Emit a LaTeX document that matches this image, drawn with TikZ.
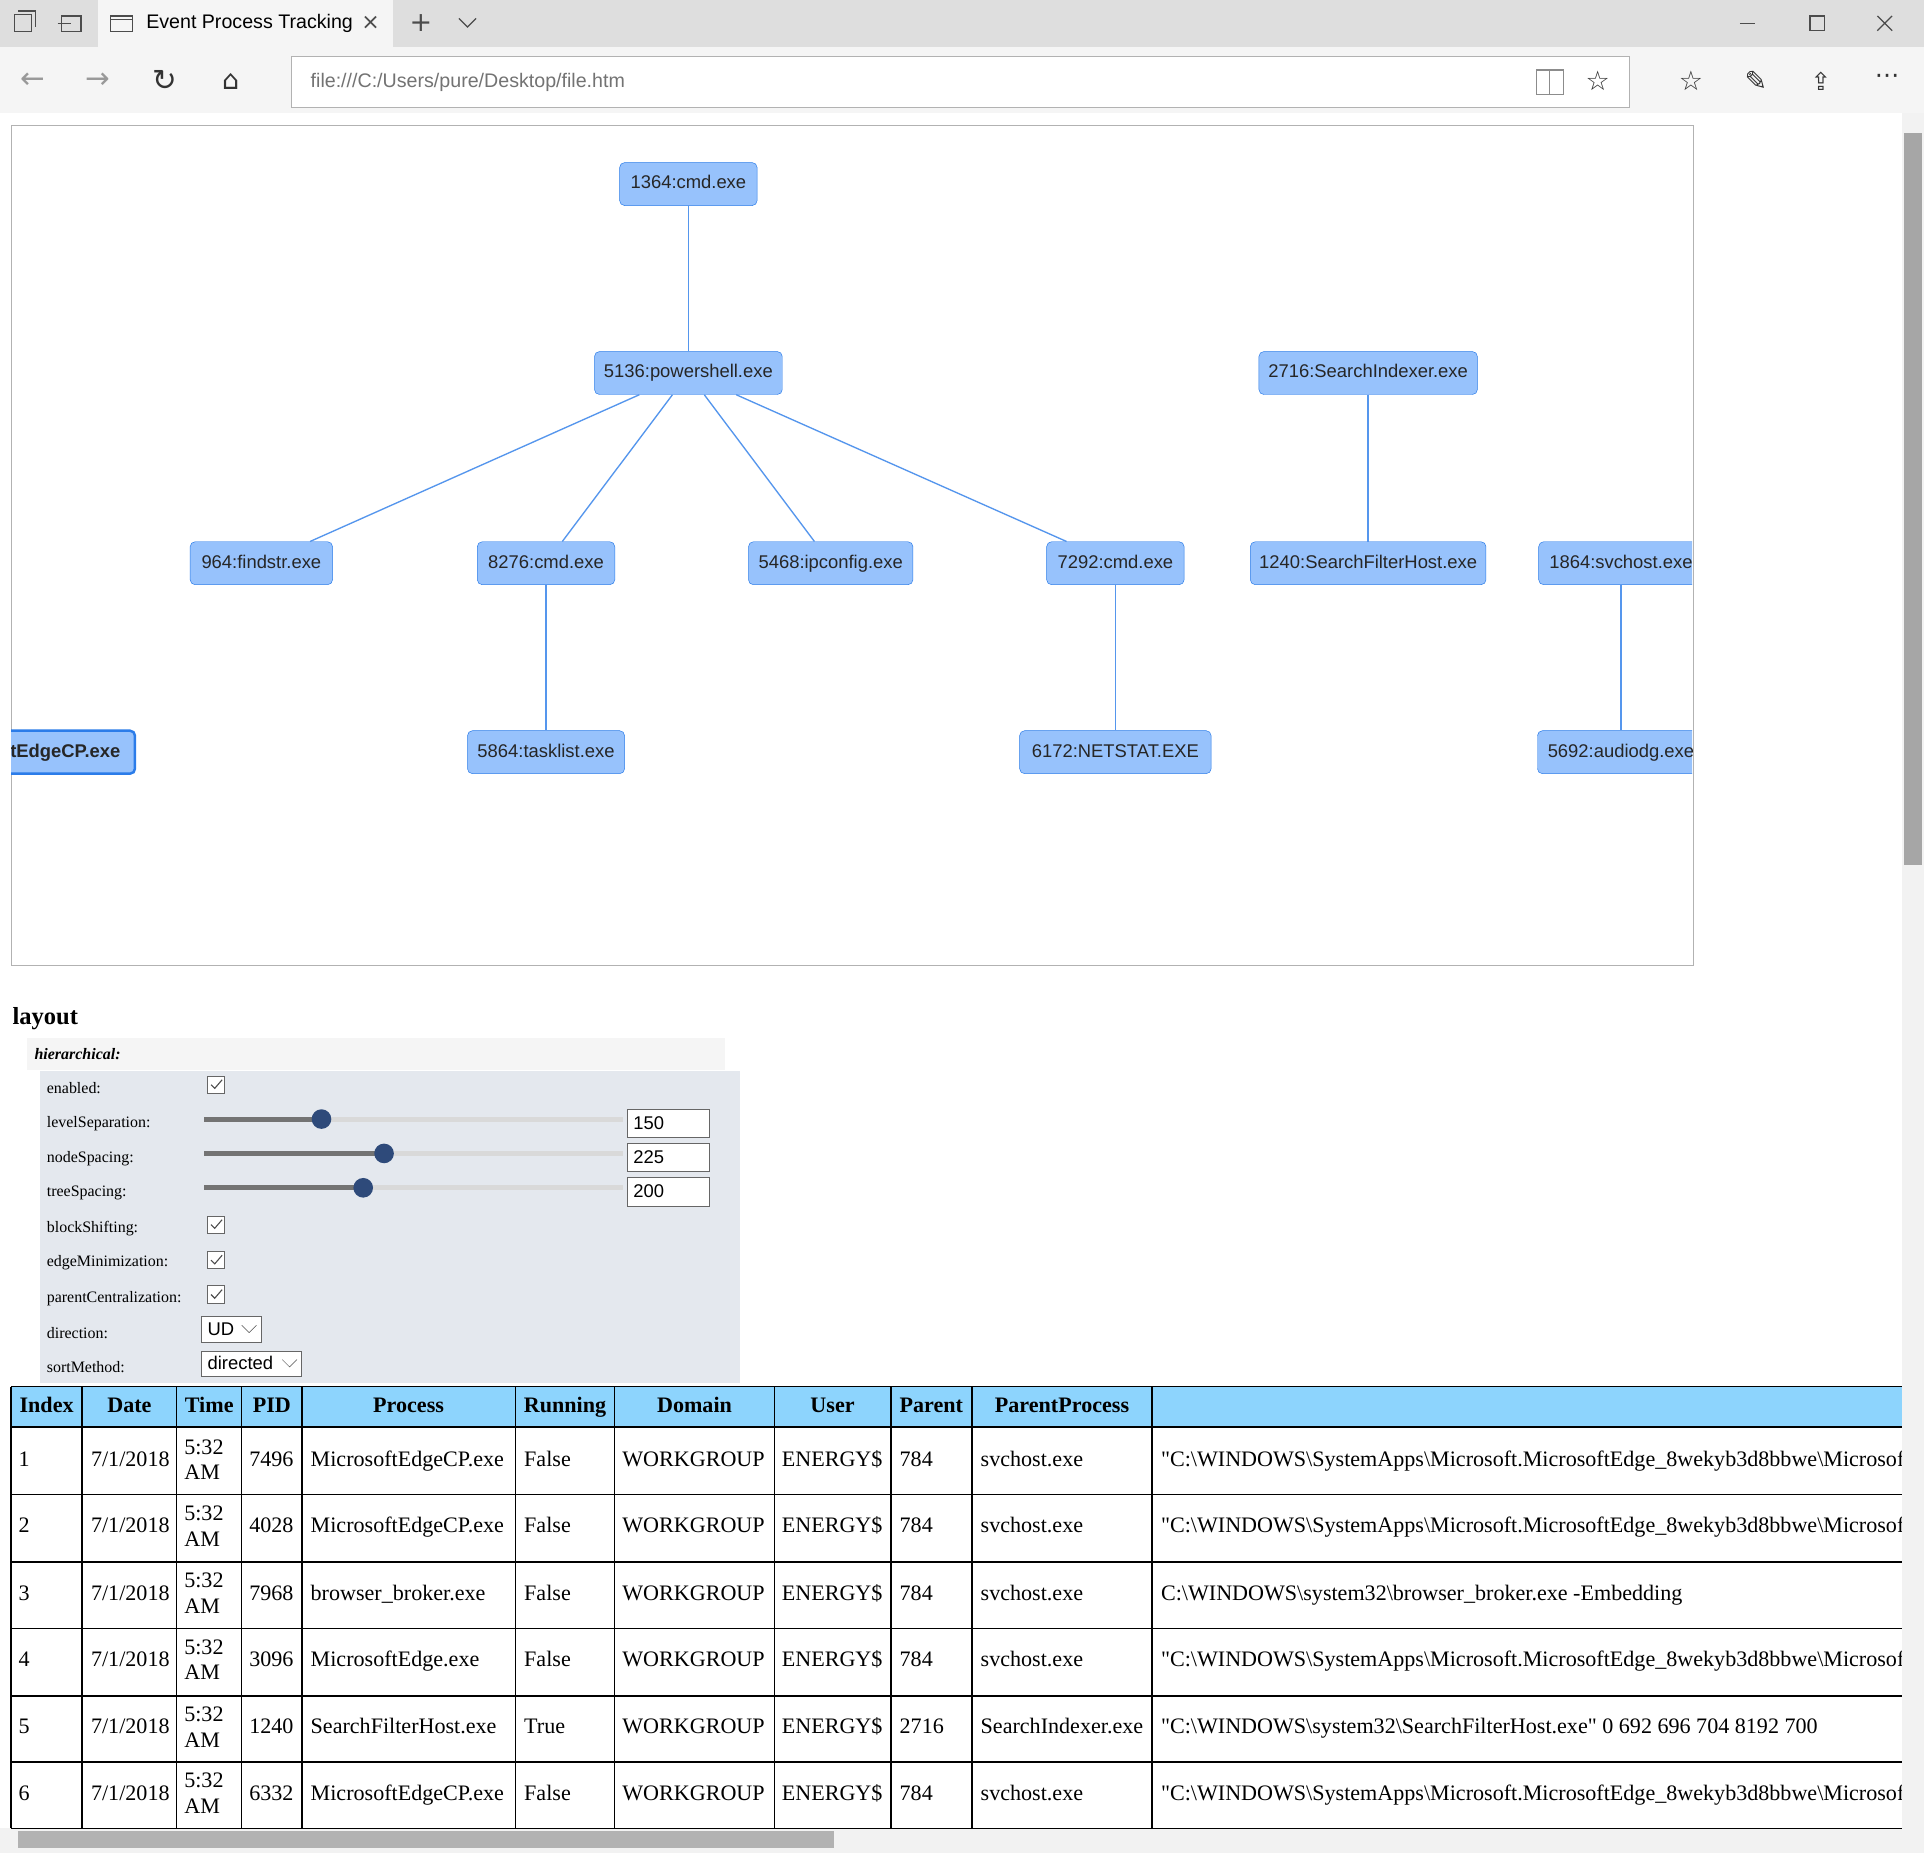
\documentclass[tikz,border=0pt]{standalone}
\usepackage{fontspec}
\setmainfont{Liberation Serif}[Ligatures=TeXOff]
\setsansfont{Liberation Sans}
\newfontfamily\symf{DejaVu Sans}
\begin{document}
\begin{tikzpicture}[x=1pt,y=-1pt,
  gnode/.style={draw=nodeb,fill=nodef,rounded corners=4,minimum height=35,inner sep=0,text height=11,text depth=3,font=\sffamily\fontsize{15}{15}\selectfont,text=black!85},
  edge/.style={draw=nodeb!80,line width=1.1},
  lbl/.style={anchor=west,font=\fontsize{13}{13}\selectfont,inner sep=0},
  cell/.style={anchor=west,font=\fontsize{18}{20}\selectfont,inner sep=0,text height=12,text depth=4},
  hcell/.style={anchor=center,font=\bfseries\fontsize{18}{20}\selectfont,inner sep=0,text height=12,text depth=4},
  chk/.style={draw=black!60,line width=0.8},
  tbox/.style={draw=black!60,fill=white,line width=0.8}]
\definecolor{nodeb}{HTML}{2B7CE9}
\definecolor{nodef}{HTML}{97C2FC}
\definecolor{panel}{HTML}{E4E8EE}
\definecolor{hdr}{HTML}{8DD4FD}
\definecolor{knob}{HTML}{2E4A7A}
\useasboundingbox (0,0) rectangle (1568,1510);
\fill[white] (0,0) rectangle (1568,1510);
% ---- browser chrome
\fill[black!13] (0,0) rectangle (1568,38);
\fill[black!4] (80,0) rectangle (320,38);
\fill[black!4] (0,38) rectangle (1568,92);
\node[anchor=west,font=\sffamily\fontsize{16}{16}\selectfont,inner sep=0] (title) at (119,19) {Event Process Tracking};
\node[font=\symf\fontsize{18}{18}\selectfont,text=black!70] (tx) at (302,19) {×};
\node[font=\symf\fontsize{22}{22}\selectfont,text=black!70] (tplus) at (343,19) {+};
\draw[black!70,line width=1] (374,15)--(381,22)--(388,15);
\draw[black!70,line width=0.9] (90,13) rectangle (108,26) (90,16)--(108,16);
\draw[black!70,line width=0.9] (12,12) rectangle (26,26) (15,9)--(29,9)--(29,22);
\draw[black!70,line width=0.9] (50,13) rectangle (66,26) (47,19)--(58,19);
\draw[black!70,line width=1] (1418,19)--(1430,19);
\draw[black!70,line width=1] (1475,13) rectangle (1487,25);
\draw[black!70,line width=1] (1530,13)--(1542,25) (1542,13)--(1530,25);
\node[font=\symf\fontsize{24}{24}\selectfont,text=black!40] (back) at (27,66) {←};
\node[font=\symf\fontsize{24}{24}\selectfont,text=black!40] (fwd) at (80,66) {→};
\node[font=\symf\fontsize{24}{24}\selectfont,text=black!80] (rel) at (134,66) {↻};
\node[font=\symf\fontsize{22}{22}\selectfont,text=black!80] (home) at (188,66) {⌂};
\draw[black!30,fill=white] (237,46) rectangle (1328,87);
\node[anchor=west,font=\sffamily\fontsize{16}{16}\selectfont,text=black!55,inner sep=0] (url) at (253,67) {file:///C:/Users/pure/Desktop/file.htm};
\draw[black!45,line width=1] (1252,57) rectangle (1274,77) (1263,57)--(1263,77);
\node[font=\symf\fontsize{22}{22}\selectfont,text=black!80] (star) at (1302,66) {☆};
\node[font=\symf\fontsize{22}{22}\selectfont,text=black!80] (fav) at (1378,66) {☆};
\node[font=\symf\fontsize{22}{22}\selectfont,text=black!80] (pen) at (1431,66) {✎};
\node[font=\symf\fontsize{20}{20}\selectfont,text=black!80] (share) at (1484,66) {⇪};
\node[font=\symf\fontsize{20}{20}\selectfont,text=black!80] (more) at (1538,64) {⋯};
% scrollbars
\fill[black!5] (1550,92) rectangle (1568,1510);
\fill[black!35] (1552,108) rectangle (1566,705);
\fill[black!5] (0,1490) rectangle (1550,1510);
\fill[black!30] (15,1492) rectangle (680,1506);
% ---- graph canvas
\draw[black!30] (9,102) rectangle (1380,787);
\begin{scope}
\clip (9,102) rectangle (1379,787);
\node[gnode,minimum width=112] (n1364) at (561,150) {1364:cmd.exe};
\node[gnode,minimum width=153] (n5136) at (561,304) {5136:powershell.exe};
\node[gnode,minimum width=178] (n2716) at (1115,304) {2716:SearchIndexer.exe};
\node[gnode,minimum width=116] (n964) at (213,459) {964:findstr.exe};
\node[gnode,minimum width=112] (n8276) at (445,459) {8276:cmd.exe};
\node[gnode,minimum width=134] (n5468) at (677,459) {5468:ipconfig.exe};
\node[gnode,minimum width=112] (n7292) at (909,459) {7292:cmd.exe};
\node[gnode,minimum width=192] (n1240) at (1115,459) {1240:SearchFilterHost.exe};
\node[gnode,minimum width=134] (n1864) at (1321,459) {1864:svchost.exe};
\node[gnode,minimum width=128] (n5864) at (445,613) {5864:tasklist.exe};
\node[gnode,minimum width=156] (n6172) at (909,613) {6172:NETSTAT.EXE};
\node[gnode,minimum width=136] (n5692) at (1321,613) {5692:audiodg.exe};
\node[gnode,line width=2,minimum width=176,font=\sffamily\bfseries\fontsize{15}{15}\selectfont] (nedge) at (22,613) {MicrosoftEdgeCP.exe};
\draw[edge] (n1364) -- (n5136);
\draw[edge] (n5136.south -| 521,0) -- (n964);
\draw[edge] (n5136.south -| 548,0) -- (n8276);
\draw[edge] (n5136.south -| 574,0) -- (n5468);
\draw[edge] (n5136.south -| 600,0) -- (n7292);
\draw[edge] (n2716) -- (n1240);
\draw[edge] (n8276) -- (n5864);
\draw[edge] (n7292) -- (n6172);
\draw[edge] (n1864) -- (n5692);
\end{scope}
% ---- layout panel
\node[anchor=west,font=\bfseries\fontsize{20}{20}\selectfont,inner sep=0] (layout) at (10,830) {layout};
\fill[black!4] (22,846) rectangle (591,872);
\node[lbl,font=\bfseries\itshape\fontsize{13}{13}\selectfont] (hier) at (28,859) {hierarchical:};
\fill[panel] (33,873) rectangle (603,1127);
\foreach \y/\t in {887/enabled:,916/levelSeparation:,944/nodeSpacing:,972/treeSpacing:,1001/blockShifting:,1029/edgeMinimization:,1058/parentCentralization:,1086/direction:,1114/sortMethod:}
  \node[lbl] at (38,\y) {\t};
\foreach \y in {884,998,1027,1055}{
  \draw[chk,fill=white] (169,\y-7) rectangle (183,\y+7);
  \draw[black!70,line width=0.9] (172,\y) -- (175,\y+3) -- (181,\y-4);}
\foreach \y/\k/\v in {912/262/150,940/313/225,968/296/200}{
  \fill[black!15] (166,\y-2) rectangle (508,\y+2);
  \fill[black!55] (166,\y-2) rectangle (\k,\y+2);
  \fill[knob] (\k,\y) circle (8);
  \draw[tbox] (511,\y-8) rectangle (578,\y+15);
  \node[anchor=west,inner sep=0,font=\sffamily\fontsize{15}{15}\selectfont] at (516,\y+3) {\v};}
\draw[tbox] (164,1073) rectangle (213,1094);
\node[anchor=west,inner sep=0,font=\sffamily\fontsize{15}{15}\selectfont] (ud) at (169,1083) {UD};
\draw[black!70] (197,1080)--(203,1086)--(209,1080);
\draw[tbox] (164,1101) rectangle (246,1122);
\node[anchor=west,inner sep=0,font=\sffamily\fontsize{15}{15}\selectfont] (dir) at (169,1111) {directed};
\draw[black!70] (230,1108)--(236,1114)--(242,1108);
% ---- table
\begin{scope}
\clip (0,1120) rectangle (1550,1490);
\fill[hdr] (9,1130) rectangle (1550,1163);
\foreach \y in {1130,1163,1218,1273,1327,1382,1436,1490} \draw[black,line width=1.2] (9,\y) -- (1550,\y);
\foreach \x in {9,67,144,197,246,420,501,631,726,792,939} \draw[black,line width=1.2] (\x,1130) -- (\x,1490);
\foreach \a/\b/\t in {9/67/Index,67/144/Date,144/197/Time,197/246/PID,246/420/Process,420/501/Running,501/631/Domain,631/726/User,726/792/Parent,792/939/ParentProcess}
  \node[hcell] at ({(\a+\b)/2},1147) {\t};
\newcommand\myrow[9]{%
  \node[cell] at (15,#1) {#2};
  \node[cell] at (74,#1) {7/1/2018};
  \node[cell] at (150,#1-10) {5:32};
  \node[cell] at (150,#1+11) {AM};
  \node[cell] at (203,#1) {#3};
  \node[cell] at (253,#1) {#4};
  \node[cell] at (427,#1) {#5};
  \node[cell] at (507,#1) {WORKGROUP};
  \node[cell] at (637,#1) {ENERGY\$};
  \node[cell] at (733,#1) {#6};
  \node[cell] at (799,#1) {#7};
  \node[cell] at (946,#1) {#8};}
\def\bs{\textbackslash}
\def\edgecmd{"C:\bs WINDOWS\bs SystemApps\bs Microsoft.MicrosoftEdge\_8wekyb3d8bbwe\bs MicrosoftEdgeCP.exe"}
\myrow{1191}{1}{7496}{MicrosoftEdgeCP.exe}{False}{784}{svchost.exe}{\edgecmd}{}
\myrow{1245}{2}{4028}{MicrosoftEdgeCP.exe}{False}{784}{svchost.exe}{\edgecmd}{}
\myrow{1300}{3}{7968}{browser\_broker.exe}{False}{784}{svchost.exe}{C:\bs WINDOWS\bs system32\bs browser\_broker.exe -Embedding}{}
\myrow{1354}{4}{3096}{MicrosoftEdge.exe}{False}{784}{svchost.exe}{"C:\bs WINDOWS\bs SystemApps\bs Microsoft.MicrosoftEdge\_8wekyb3d8bbwe\bs MicrosoftEdge.exe"}{}
\myrow{1409}{5}{1240}{SearchFilterHost.exe}{True}{2716}{SearchIndexer.exe}{"C:\bs WINDOWS\bs system32\bs SearchFilterHost.exe" 0 692 696 704 8192 700}{}
\myrow{1463}{6}{6332}{MicrosoftEdgeCP.exe}{False}{784}{svchost.exe}{\edgecmd}{}
\end{scope}
\end{tikzpicture}
\end{document}
